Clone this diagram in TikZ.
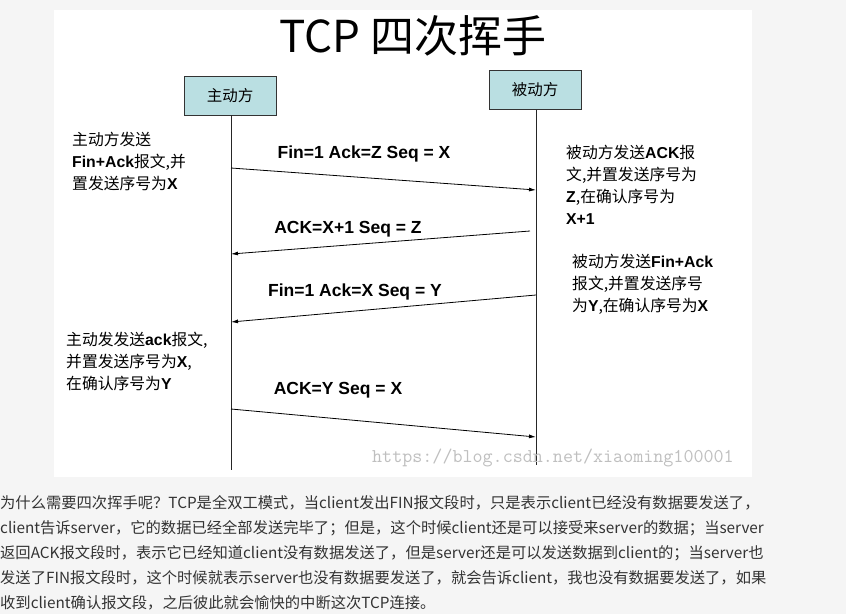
\documentclass[tikz,border=0pt]{standalone}
\usepackage{fontspec}
\setmainfont{Liberation Sans}
\newfontfamily\cjk{Noto Sans CJK SC}
\usetikzlibrary{arrows.meta}
\definecolor{boxfill}{HTML}{BADFE2}
\definecolor{bgc}{HTML}{F5F5F5}
\newcommand{\lb}[1]{{\rmfamily\bfseries #1}}
\begin{document}
\begin{tikzpicture}[x=1pt,y=-1pt,
  party/.style={draw=black!80,fill=boxfill,minimum width=92pt,minimum height=39pt,font=\cjk\fontsize{15.5}{18}\selectfont,inner sep=0pt},
  life/.style={line width=0.9pt,black!85},
  msg/.style={line width=0.8pt,-{Latex[length=7pt,width=4pt]}},
  lab/.style={font=\bfseries\fontsize{17.5}{20}\selectfont,inner sep=0pt},
  note/.style={font=\cjk\fontsize{15.8}{22}\selectfont,align=left,anchor=north west,inner sep=0pt},
  para/.style={font=\cjk\fontsize{15.3}{18}\selectfont,text=black!80,anchor=west,inner sep=0pt}]
\useasboundingbox (0,0) rectangle (846,614);
\fill[bgc] (0,0) rectangle (846,614);
\fill[white] (54,10) rectangle (752,477);
\node[font=\cjk\fontsize{44}{50}\selectfont,inner sep=0pt] (title) at (413,36) {TCP 四次挥手};
\node[party] (A) at (230,95.5) {主动方};
\node[party] (B) at (535,90) {被动方};
\coordinate (Aend) at (231,470);
\coordinate (Bend) at (536,465);
\draw[life] (A.south -| Aend) -- (Aend);
\draw[life] (B.south -| Bend) -- (Bend);
\coordinate (a1) at (231,168); \coordinate (b1) at (536,190);
\coordinate (b2) at (530,231); \coordinate (a2) at (231,254);
\coordinate (b3) at (536,295); \coordinate (a3) at (231,322);
\coordinate (a4) at (231,409); \coordinate (b4) at (536,437);
\draw[msg] (a1) -- (b1);
\draw[msg] (b2) -- (a2);
\draw[msg] (b3) -- (a3);
\draw[msg] (a4) -- (b4);
\node[lab] (l1) at (364,154) {Fin=1 Ack=Z Seq = X};
\node[lab] (l2) at (348,229) {ACK=X+1 Seq = Z};
\node[lab] (l3) at (355,292) {Fin=1 Ack=X Seq = Y};
\node[lab] (l4) at (338,390) {ACK=Y Seq = X};
\node[note] (n1) at (72,132) {主动方发送\\\lb{Fin+Ack}报文,并\\置发送序号为\lb{X}};
\node[note] (n2) at (66,332) {主动发发送\lb{ack}报文,\\并置发送序号为\lb{X},\\在确认序号为\lb{Y}};
\node[note] (n3) at (566,145) {被动方发送\lb{ACK}报\\文,并置发送序号为\\\lb{Z},在确认序号为\\\lb{X+1}};
\node[note] (n4) at (572,254) {被动方发送\lb{Fin+Ack}\\报文,并置发送序号\\为\lb{Y},在确认序号为\lb{X}};
\node[font=\fontfamily{lmtt}\fontsize{19.5}{22}\selectfont,text=black!25,anchor=west,inner sep=0pt] (wm) at (372,458) {https://blog.csdn.net/xiaoming100001};
\node[para] (p1) at (0,503) {为什么需要四次挥手呢？TCP是全双工模式，当client发出FIN报文段时，只是表示client已经没有数据要发送了，};
\node[para] (p2) at (0,528) {client告诉server，它的数据已经全部发送完毕了；但是，这个时候client还是可以接受来server的数据；当server};
\node[para] (p3) at (0,553) {返回ACK报文段时，表示它已经知道client没有数据发送了，但是server还是可以发送数据到client的；当server也};
\node[para] (p4) at (0,578) {发送了FIN报文段时，这个时候就表示server也没有数据要发送了，就会告诉client，我也没有数据要发送了，如果};
\node[para] (p5) at (0,603) {收到client确认报文段，之后彼此就会愉快的中断这次TCP连接。};
\end{tikzpicture}
\end{document}
